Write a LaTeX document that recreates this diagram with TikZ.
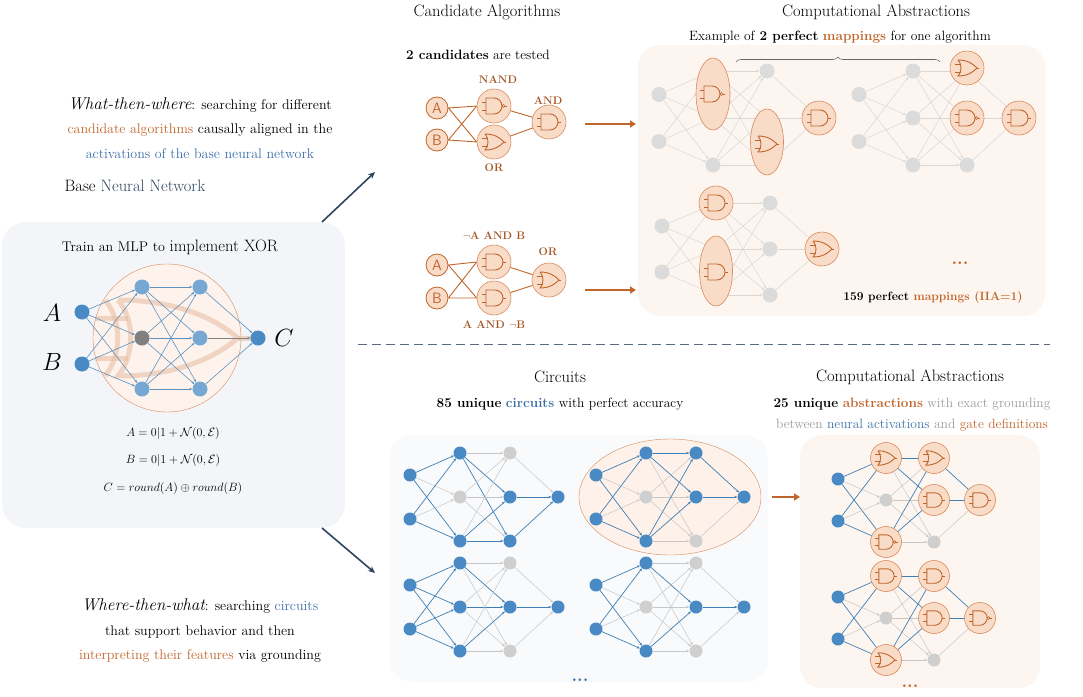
\documentclass[tikz,border=0pt]{standalone}
\usetikzlibrary{shapes.geometric,arrows.meta,decorations.pathreplacing}
\definecolor{orng}{HTML}{C0652B}
\definecolor{gfill}{HTML}{F9DCC8}
\definecolor{gdraw}{HTML}{D98A5C}
\definecolor{bluet}{HTML}{3D6FA8}
\definecolor{navy}{HTML}{2E4460}
\definecolor{nblue}{HTML}{4A8AC4}
\definecolor{eblue}{HTML}{3F7FB5}
\definecolor{ngrey}{HTML}{CFCFCF}
\definecolor{egrey}{HTML}{C6C6C6}
\definecolor{greyt}{HTML}{9A9A9A}
\definecolor{lbox}{HTML}{F3F5F8}
\definecolor{cbox}{HTML}{F8FAFC}
\definecolor{obox}{HTML}{FDF6F0}
\begin{document}
\begin{tikzpicture}[x=1pt,y=-1pt,
 nd/.style={circle,fill=nblue,minimum size=13pt,inner sep=0},
 ndg/.style={circle,fill=ngrey,minimum size=13pt,inner sep=0},
 eb/.style={eblue,line width=0.7pt,-{Stealth[length=3pt,width=2.5pt]}},
 eg/.style={egrey,line width=0.5pt,-{Stealth[length=3pt,width=2.5pt]}},
 gc/.style={circle,fill=gfill,draw=gdraw,line width=0.6pt,minimum size=34pt,inner sep=0},
 ge/.style={ellipse,fill=gfill,draw=gdraw,line width=0.6pt,inner sep=0},
 gl/.style={orng,line width=0.9pt},
 gate/.style={draw=orng,line width=0.9pt},
 lab/.style={font=\fontsize{11}{12}\selectfont\bfseries,text=orng!85!black},
 pics/andg/.style={code={\draw[gate] (-8,-8)--(1,-8) arc(-90:90:8)--(-8,8)--cycle;
   \draw[gate] (-12,-4)--(-8,-4) (-12,4)--(-8,4) (9,0)--(12,0);}},
 pics/nandg/.style={code={\draw[gate] (-8,-8)--(0,-8) arc(-90:90:8)--(-8,8)--cycle;
   \draw[gate] (-12,-4)--(-8,-4) (-12,4)--(-8,4) (11,0)--(13,0); \draw[gate,line width=0.6pt] (9.5,0) circle(1.5);}},
 pics/org/.style={code={\draw[gate] (-9,-8) .. controls (1,-8) and (6,-4) .. (10,0) .. controls (6,4) and (1,8) .. (-9,8) .. controls (-5,4) and (-5,-4) .. (-9,-8);
   \draw[gate] (-12,-4)--(-6,-4) (-12,4)--(-6,4) (10,0)--(12,0);}},
]
\useasboundingbox (0,0) rectangle (1083,696);
% ---------- helpers
\def\ndx{50}\def\ndy{44}
\newcommand\myedge[3]{%
 \ifnum\numexpr\csname #1f-#2\endcsname+\csname #1f-#3\endcsname\relax>0
  \draw[eg] (#1-#2) -- (#1-#3);\else\draw[eb] (#1-#2) -- (#1-#3);\fi}
\newcommand\cnet[9]{%
 \ifnum#4#5#6#7#8#9=111111 \def\ist{ndg}\def\ifl{1}\else\def\ist{nd}\def\ifl{0}\fi
 \expandafter\xdef\csname #1f-i1\endcsname{\ifl}\expandafter\xdef\csname #1f-i2\endcsname{\ifl}%
 \expandafter\xdef\csname #1f-o\endcsname{\ifl}%
 \expandafter\gdef\csname #1f-a1\endcsname{#4}\expandafter\gdef\csname #1f-a2\endcsname{#5}%
 \expandafter\gdef\csname #1f-a3\endcsname{#6}\expandafter\gdef\csname #1f-b1\endcsname{#7}%
 \expandafter\gdef\csname #1f-b2\endcsname{#8}\expandafter\gdef\csname #1f-b3\endcsname{#9}%
 \node[\ist] (#1-i1) at (#2,#3-\ndy/2) {};
 \node[\ist] (#1-i2) at (#2,#3+\ndy/2) {};
 \ifnum#4=1 \def\st{ndg}\else\def\st{nd}\fi \node[\st] (#1-a1) at (#2+\ndx,#3-\ndy) {};
 \ifnum#5=1 \def\st{ndg}\else\def\st{nd}\fi \node[\st] (#1-a2) at (#2+\ndx,#3) {};
 \ifnum#6=1 \def\st{ndg}\else\def\st{nd}\fi \node[\st] (#1-a3) at (#2+\ndx,#3+\ndy) {};
 \ifnum#7=1 \def\st{ndg}\else\def\st{nd}\fi \node[\st] (#1-b1) at (#2+2*\ndx,#3-\ndy) {};
 \ifnum#8=1 \def\st{ndg}\else\def\st{nd}\fi \node[\st] (#1-b2) at (#2+2*\ndx,#3) {};
 \ifnum#9=1 \def\st{ndg}\else\def\st{nd}\fi \node[\st] (#1-b3) at (#2+2*\ndx,#3+\ndy) {};
 \node[\ist] (#1-o) at (#2+3*\ndx-2,#3) {};
 \foreach \s in {i1,i2}{\foreach \t in {a1,a2,a3}{\myedge{#1}{\s}{\t}}}
 \foreach \s in {a1,a2,a3}{\foreach \t in {b1,b2,b3}{\myedge{#1}{\s}{\t}}}
 \foreach \t in {b1,b2,b3}{\myedge{#1}{\t}{o}}
}
% ---------- left panel
\node at (135,186) {\fontsize{16.5}{18}\selectfont Base \textcolor{navy}{Neural Network}};
\fill[rounded corners=24pt,fill=lbox] (2,222) rectangle (345,528);
\node at (170,247) {\fontsize{14}{15}\selectfont Train an MLP to \fontsize{16.5}{18}\selectfont implement XOR};
\node[circle,draw=gdraw,fill=gfill!35,minimum size=148pt,inner sep=0] (big) at (167,338) {};
\begin{scope}[gdraw!55,line width=5pt,opacity=0.6]
\draw (118,300) .. controls (160,300) and (205,310) .. (238,338) .. controls (205,366) and (160,376) .. (118,376) .. controls (135,355) and (135,320) .. (118,300);
\draw (105,300) .. controls (122,320) and (122,355) .. (105,376);
\draw (95,318)--(128,318) (95,358)--(128,358) (238,338)--(258,338);
\end{scope}
\tikzset{mn/.style={circle,fill=nblue!75,minimum size=15pt,inner sep=0},
 me/.style={eblue!85,line width=0.6pt,-{Stealth[length=3pt,width=2.5pt]}}}
\node[circle,fill=nblue,minimum size=15pt,inner sep=0] (mA) at (82,312) {};
\node[circle,fill=nblue,minimum size=15pt,inner sep=0] (mB) at (82,364) {};
\node[mn] (m11) at (142,287) {}; \node[mn,fill=gray] (m12) at (142,338) {}; \node[mn] (m13) at (142,389) {};
\node[mn] (m21) at (200,287) {}; \node[mn] (m22) at (200,338) {}; \node[mn] (m23) at (200,389) {};
\node[circle,fill=nblue,minimum size=15pt,inner sep=0] (mC) at (258,338) {};
\foreach \s in {mA,mB}{\foreach \t in {m11,m12,m13}{\draw[me] (\s)--(\t);}}
\foreach \s in {m11,m12,m13}{\foreach \t in {m21,m22,m23}{\draw[me] (\s)--(\t);}}
\foreach \s in {m21,m23}{\draw[me] (\s)--(mC);}
\draw[me,gray] (m22)--(mC);
\node at (52,313) {\fontsize{24}{26}\selectfont$A$};
\node at (52,362) {\fontsize{24}{26}\selectfont$B$};
\node at (284,338) {\fontsize{24}{26}\selectfont$C$};
\node at (173,433) {\fontsize{12}{13}\selectfont$A=0|1+\mathcal{N}(0,\mathcal{E})$};
\node at (173,460) {\fontsize{12}{13}\selectfont$B=0|1+\mathcal{N}(0,\mathcal{E})$};
\node at (173,488) {\fontsize{12}{13}\selectfont$C=round(A)\oplus round(B)$};
\coordinate (t1) at (322,222); \coordinate (t2) at (375,172);
\coordinate (b1) at (322,528); \coordinate (b2) at (375,573);
\draw[navy,line width=1.6pt,-{Stealth[length=7pt,width=6pt]}] (t1)--(t2);
\draw[navy,line width=1.6pt,-{Stealth[length=7pt,width=6pt]}] (b1)--(b2);
\node[align=center,font=\fontsize{14}{24.5}\selectfont] at (200,128) {{\fontsize{17}{18}\selectfont\itshape What-then-where}: searching for different\\ \textcolor{orng}{candidate algorithms} causally aligned in the\\ \textcolor{bluet}{activations of the base neural network}};
\node[align=center,font=\fontsize{14}{24.5}\selectfont] at (200,631) {{\fontsize{17}{18}\selectfont\itshape Where-then-what}: searching \textcolor{bluet}{circuits}\\ that support behavior and then\\ \textcolor{orng}{interpreting their features} via grounding};
% ---------- top: candidate algorithms
\node at (487,12) {\fontsize{16.5}{18}\selectfont Candidate Algorithms};
\node at (876,12) {\fontsize{16.5}{18}\selectfont Computational Abstractions};
\node at (478,55) {\fontsize{13.5}{14}\selectfont\textbf{2 candidates} are tested};
\tikzset{inp/.style={circle,fill=gfill,draw=orng,line width=0.8pt,minimum size=22pt,inner sep=0,font=\fontsize{15}{16}\selectfont\sffamily,text=orng}}
\node[inp] (cA) at (437,108) {A}; \node[inp] (cB) at (437,140) {B};
\node[gc] (cg1) at (494,106) {}; \pic at (cg1) {nandg};
\node[gc] (cg2) at (494,142) {}; \pic at (cg2) {org};
\node[gc] (cg3) at (549,122) {}; \pic at (cg3) {andg};
\draw[gl] (cA.east)--(cg1.west) (cA.east)--(cg2.west) (cB.east)--(cg1.west) (cB.east)--(cg2.west) (cg1)--(cg3) (cg2)--(cg3);
\node[lab] at (498,80) {NAND}; \node[lab] at (548,101) {AND}; \node[lab] at (494,168) {OR};
\node[inp] (dA) at (437,265) {A}; \node[inp] (dB) at (437,298) {B};
\node[gc] (dg1) at (494,262) {}; \pic at (dg1) {andg};
\node[gc] (dg2) at (494,298) {}; \pic at (dg2) {andg};
\node[gc] (dg3) at (549,280) {}; \pic at (dg3) {org};
\draw[gl] (dA.east)--(dg1.west) (dA.east)--(dg2.west) (dB.east)--(dg1.west) (dB.east)--(dg2.west) (dg1)--(dg3) (dg2)--(dg3);
\node[lab] at (494,236) {$\neg$A AND B}; \node[lab] at (548,252) {OR}; \node[lab] at (494,325) {A AND $\neg$B};
\coordinate (ar1s) at (585,124); \coordinate (ar1e) at (636,124);
\coordinate (ar2s) at (585,290); \coordinate (ar2e) at (636,290);
\draw[orng,line width=2pt,-{Triangle[length=6pt,width=7pt]}] (ar1s)--(ar1e);
\draw[orng,line width=2pt,-{Triangle[length=6pt,width=7pt]}] (ar2s)--(ar2e);
% ---------- top abstraction panel
\fill[rounded corners=22pt,fill=obox] (638,45) rectangle (1045,316);
\node at (840,37) {\fontsize{13.5}{14}\selectfont Example of \textbf{2 perfect} \textcolor{orng}{\textbf{mappings}} for one algorithm};
\draw[gray!80!black,line width=0.6pt,decorate,decoration={brace,amplitude=5pt}] (736,62)--(940,62);
\begin{scope}[ndg/.append style={fill=ngrey!75,minimum size=15pt},eg/.append style={egrey!70}]
\def\ndx{54}\def\ndy{47}
\cnet{P}{659}{118}{1}{1}{1}{1}{1}{1}
\cnet{Q}{859}{118}{1}{1}{1}{1}{1}{1}
\def\ndy{46}
\cnet{R}{662}{249}{1}{1}{1}{1}{1}{1}
\end{scope}
\node[ge,minimum width=34pt,minimum height=72pt] (pe1) at (713,94) {}; \pic at (712,94) {nandg};
\node[ge,minimum width=33pt,minimum height=66pt] (pe2) at (767,142) {}; \pic at (767,144) {org};
\node[gc,minimum size=34pt] (pg3) at (P-o) {}; \pic at (pg3) {andg};
\node[gc,minimum size=34pt] (qg1) at ([yshift=3pt]Q-b1) {}; \pic at (qg1) {org};
\node[gc,minimum size=34pt] (qg2) at (Q-b2) {}; \pic at (qg2) {nandg};
\node[gc,minimum size=34pt] (qg3) at (Q-o) {}; \pic at (qg3) {andg};
\node[gc,minimum size=34pt] (rg1) at (R-a1) {}; \pic at (rg1) {andg};
\node[ge,minimum width=33pt,minimum height=70pt] (re2) at (716,271) {}; \pic at (716,272) {andg};
\node[gc,minimum size=34pt] (rg3) at (R-o) {}; \pic at (rg3) {org};
\node[text=orng,font=\fontsize{18}{18}\selectfont\bfseries] at (960,263) {...};
\node at (933,298) {\fontsize{12}{13}\selectfont\textbf{159 perfect \textcolor{orng}{mappings (IIA=1)}}};
% ---------- separator
\draw[navy!80,line width=0.8pt,dash pattern=on 9pt off 5pt] (358,344)--(1050,344);
% ---------- circuits
\node at (560,377) {\fontsize{16.5}{18}\selectfont Circuits};
\node at (560,404) {\fontsize{13.5}{14}\selectfont\textbf{85 unique} \textcolor{bluet}{\textbf{circuits}} with perfect accuracy};
\node at (910,377) {\fontsize{16.5}{18}\selectfont Computational Abstractions};
\node at (912,404) {\fontsize{13.5}{14}\selectfont\textbf{25 unique} \textcolor{orng}{\textbf{abstractions}} \textcolor{greyt}{with exact grounding}};
\node at (912,425) {\fontsize{13.5}{14}\selectfont\textcolor{greyt}{between} \textcolor{bluet}{neural activations} \textcolor{greyt}{and} \textcolor{orng}{gate definitions}};
\fill[rounded corners=22pt,fill=cbox] (390,435) rectangle (768,682);
\node[ellipse,draw=gdraw,fill=gfill!40,minimum width=182pt,minimum height=116pt] (sel) at (670,497) {};
\def\ndx{50}\def\ndy{44}
\cnet{C}{410}{497}{0}{1}{0}{1}{0}{0}
\cnet{D}{596}{497}{0}{1}{0}{0}{0}{1}
\cnet{E}{410}{607}{0}{0}{0}{1}{0}{1}
\cnet{F}{596}{607}{0}{1}{0}{1}{0}{1}
\node[text=bluet,font=\fontsize{18}{18}\selectfont\bfseries] at (580,680) {...};
\coordinate (ar3s) at (772,497); \coordinate (ar3e) at (800,497);
\draw[orng,line width=2pt,-{Triangle[length=6pt,width=7pt]}] (ar3s)--(ar3e);
\fill[rounded corners=22pt,fill=obox] (800,435) rectangle (1040,688);
\def\ndx{48}\def\ndy{42}
\cnet{G}{838}{500}{0}{1}{0}{0}{0}{1}
\cnet{H}{838}{618}{0}{1}{0}{0}{0}{1}
\tikzset{gs/.style={gc,minimum size=31pt}}
\node[gs] (g1) at (G-a1) {}; \pic[scale=0.9] at (g1) {org};
\node[gs] (g2) at (G-a3) {}; \pic[scale=0.9] at (g2) {nandg};
\node[gs] (g3) at (G-b1) {}; \pic[scale=0.9] at (g3) {org};
\node[gs] (g4) at (G-b2) {}; \pic[scale=0.9] at (g4) {andg};
\node[gs] (g5) at (G-o) {}; \pic[scale=0.9] at (g5) {andg};
\node[gs] (h1) at (H-a1) {}; \pic[scale=0.9] at (h1) {andg};
\node[gs] (h2) at (H-a3) {}; \pic[scale=0.9] at (h2) {org};
\node[gs] (h3) at (H-b1) {}; \pic[scale=0.9] at (h3) {andg};
\node[gs] (h4) at (H-b2) {}; \pic[scale=0.9] at (h4) {andg};
\node[gs] (h5) at (H-o) {}; \pic[scale=0.9] at (h5) {nandg};
\node[text=orng,font=\fontsize{18}{18}\selectfont\bfseries] at (910,686) {...};
\end{tikzpicture}
\end{document}
